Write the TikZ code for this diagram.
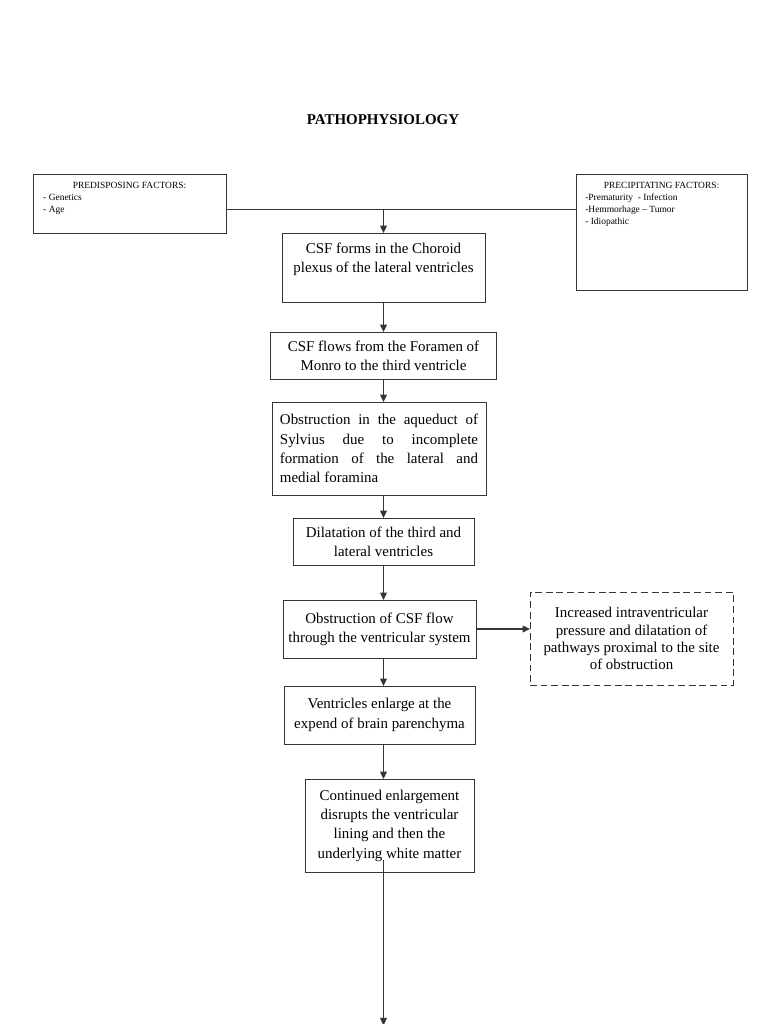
\documentclass[tikz,border=0pt]{standalone}
\usepackage{fontspec}
\setmainfont{Liberation Serif}
\usetikzlibrary{positioning,arrows.meta,calc}
\definecolor{linegray}{HTML}{363636}

\begin{document}
\begin{tikzpicture}[
    >={Triangle[length=6pt,width=5.5pt]},
    every node/.style={font=\fontsize{12}{15.5}\selectfont},
    box/.style={
        draw=linegray, line width=0.7pt, align=center,
        minimum width=#1, inner sep=4pt, outer sep=0pt
    },
    dashbox/.style={
        box=#1, dash pattern=on 5.5pt off 3pt,
        font=\fontsize{12}{13.8}\selectfont
    },
    factorbox/.style={draw=linegray, line width=0.7pt, outer sep=0pt},
    factortitle/.style={font=\fontsize{7.6}{9.3}\selectfont, inner sep=0pt},
    factoritems/.style={font=\fontsize{7.6}{9.3}\selectfont, align=left, inner sep=0pt},
    arr/.style={->, color=linegray, line width=0.9pt},
    joinline/.style={color=linegray, line width=0.8pt},
]

% === Page ===
\useasboundingbox (0,0) rectangle (21.675,-28.899);

\node[font=\fontsize{12}{14}\selectfont\bfseries] (title) at (10.809,-3.387) {PATHOPHYSIOLOGY};

% === Factors ===
\node[factorbox, minimum width=5.447cm, minimum height=1.665cm] (pre) at (3.655,-5.743) {};
\node[factortitle, below=0.226cm of pre.north] (pretitle) {PREDISPOSING FACTORS:};
\node[factoritems, below right=0.564cm and 0.282cm of pre.north west] (preitems)
    {- Genetics\\- Age};

\node[factorbox, minimum width=4.826cm, minimum height=3.274cm] (prec) at (18.669,-6.548) {};
\node[factortitle, below=0.226cm of prec.north] (prectitle) {PRECIPITATING FACTORS:};
\node[factoritems, below right=0.564cm and 0.254cm of prec.north west] (precitems)
    {-Prematurity\ \ - Infection\\-Hemmorhage -- Tumor\\- Idiopathic};

% === Main chain ===
\node[box=5.729cm, minimum height=1.947cm, anchor=north] (c1) at (10.823,-6.576)
    {CSF forms in the Choroid\\plexus of the lateral ventricles\\~};
\node[box=6.378cm, minimum height=1.326cm, below=0.847cm of c1] (c2)
    {CSF flows from the Foramen of\\Monro to the third ventricle};
\node[box=6.04cm, minimum height=2.625cm, text width=5.59cm, align=justify,
    below=0.649cm of c2, xshift=-0.127cm] (c3)
    {Obstruction in the aqueduct of\linebreak Sylvius due to incomplete\linebreak
     formation of the lateral and\linebreak medial foramina};
\node[box=5.108cm, minimum height=1.326cm, below=0.649cm of c3, xshift=0.127cm] (c4)
    {Dilatation of the third and\\lateral ventricles};
\node[box=5.447cm, minimum height=1.637cm, below=0.988cm of c4, xshift=-0.113cm] (c5)
    {Obstruction of CSF flow\\through the ventricular system};
\node[box=5.39cm, minimum height=1.637cm, below=0.79cm of c5] (c6)
    {Ventricles enlarge at the\\expend of brain parenchyma};
\node[box=4.77cm, minimum height=2.625cm, below=0.988cm of c6, xshift=0.282cm] (c7)
    {Continued enlargement\\disrupts the ventricular\\lining and then the\\underlying white matter};

% Side effect
\node[dashbox=5.729cm, minimum height=2.625cm, right=1.524cm of c5, yshift=-0.268cm] (pressure)
    {Increased intraventricular\\pressure and dilatation of\\pathways proximal to the site\\of obstruction};

% === Arrows ===
\coordinate[above=0.677cm of c1.north] (split);
\draw[joinline] (pre.east |- split) -- (prec.west |- split);
\draw[arr] (split) -- (c1.north);
\draw[arr] (c1.south) -- (c2.north);
\draw[arr] (c2.south) -- (c2.south |- c3.north);
\draw[arr] (c3.south -| c1) -- (c4.north -| c1);
\draw[arr] (c4.south -| c1) -- (c5.north -| c1);
\draw[arr] (c5.south -| c1) -- (c6.north -| c1);
\draw[arr] (c6.south -| c1) -- (c7.north -| c1);
\draw[arr] (c5.east) -- (c5.east -| pressure.west);

% long tail out of the last box
\coordinate (tailtop) at ($(c7.south -| c1)+(0,0.339)$);
\coordinate (tailend) at ($(c7.south -| c1)+(0,-4.33)$);
\draw[arr] (tailtop) -- (tailend);

\end{tikzpicture}
\end{document}
